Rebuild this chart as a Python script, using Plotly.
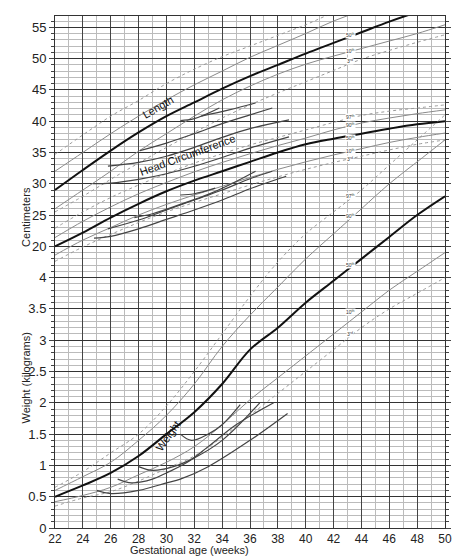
import plotly.graph_objects as go

# one shared vertical scale: kg * 10 below, cm + 25 above
def kg(vals):
    return [v * 10 for v in vals]

def cm(vals):
    return [v + 25 for v in vals]

weeks = [22, 24, 26, 28, 30, 32, 34, 36, 38, 40, 42, 44, 46, 48, 50]

# Length percentiles (cm)
len_p97 = [34.7, 37.8, 40.8, 43.3, 46.0, 48.3, 50.3, 52.0, 53.7, 55.4, 57.3, 58.5, 59.5, 60.5, 61.5]
len_p90 = [32.0, 35.0, 38.0, 40.8, 43.4, 45.8, 48.0, 50.2, 52.1, 54.0, 56.0, 57.6, 58.8, 59.8, 60.8]
len_p50 = [29.0, 32.2, 35.3, 38.2, 40.8, 43.0, 45.2, 47.2, 49.0, 50.8, 52.5, 54.2, 55.9, 57.4, 58.6]
len_p10 = [26.0, 29.0, 32.0, 35.2, 38.0, 40.8, 43.4, 45.6, 47.5, 49.1, 50.4, 51.6, 52.8, 54.0, 55.4]
len_p3 = [25.5, 28.0, 30.7, 33.3, 35.8, 38.2, 40.5, 42.6, 44.5, 46.3, 48.1, 49.9, 51.3, 52.6, 53.8]

# Head circumference percentiles (cm)
hc_p97 = [22.9, 25.5, 27.8, 29.8, 31.6, 33.3, 34.8, 36.2, 37.4, 38.6, 39.8, 40.9, 41.6, 42.1, 42.6]
hc_p90 = [21.4, 24.0, 26.3, 28.4, 30.2, 31.9, 33.4, 34.8, 36.1, 37.3, 38.6, 39.7, 40.5, 41.2, 41.8]
hc_p50 = [20.0, 22.2, 24.6, 26.8, 28.8, 30.5, 32.0, 33.5, 35.0, 36.3, 37.2, 38.0, 38.8, 39.5, 40.0]
hc_p10 = [18.6, 21.0, 23.0, 25.0, 26.7, 28.2, 29.6, 31.0, 32.3, 33.5, 34.6, 35.6, 36.6, 37.4, 38.1]
hc_p3 = [17.6, 19.9, 21.9, 23.8, 25.5, 27.0, 28.4, 29.8, 31.1, 32.3, 33.4, 34.4, 35.4, 36.3, 37.0]

# Weight percentiles (kg)
wt_p97 = [0.65, 0.90, 1.20, 1.50, 1.95, 2.50, 3.10, 3.70, 4.25, 4.70, 5.05, 5.40, 5.80, 6.20, 6.60]
wt_p90 = [0.60, 0.82, 1.05, 1.40, 1.80, 2.30, 2.90, 3.40, 3.85, 4.30, 4.70, 5.10, 5.50, 5.85, 6.20]
wt_p50 = [0.50, 0.68, 0.88, 1.15, 1.50, 1.85, 2.30, 2.85, 3.20, 3.60, 3.95, 4.30, 4.65, 5.00, 5.30]
wt_p10 = [0.42, 0.52, 0.65, 0.85, 1.05, 1.30, 1.65, 2.05, 2.40, 2.75, 3.10, 3.45, 3.80, 4.10, 4.40]
wt_p3 = [0.35, 0.48, 0.58, 0.75, 0.95, 1.15, 1.45, 1.80, 2.15, 2.50, 2.85, 3.20, 3.50, 3.75, 4.00]

# individual infants
len_a_wk = [31, 32, 33.8]
len_a = [40.1, 40.4, 42.1]
len_b_wk = [32.5, 34.5, 36.4]
len_b = [40.8, 41.8, 42.9]
len_c_wk = [25.8, 28, 30, 32, 34, 36, 38.8]
len_c = [32.8, 33.4, 34.4, 35.8, 37.4, 38.8, 40.2]
len_d_wk = [28.1, 30, 32, 34, 36, 37.6]
len_d = [35.3, 36.5, 38.0, 39.6, 41.0, 42.1]
len_e_wk = [24.7, 26, 28, 30, 32, 34, 36, 38.8]
len_e = [30.0, 30.1, 30.7, 31.6, 32.8, 34.2, 35.7, 37.5]

hc_a_wk = [24.8, 26, 28, 30, 32, 34, 36, 38.6]
hc_a = [21.3, 21.6, 22.8, 24.3, 25.8, 27.4, 29.2, 31.2]
hc_b_wk = [25.8, 28, 30, 32, 34, 36, 37.6]
hc_b = [22.8, 24.2, 25.8, 27.4, 29.0, 30.8, 32.0]
hc_c_wk = [27.7, 29, 31, 33, 34.5, 36.4]
hc_c = [24.6, 25.2, 26.7, 28.3, 29.8, 32.0]
hc_d_wk = [31, 32, 33.5]
hc_d = [28.2, 28.4, 29.3]

wt_a_wk = [25, 26, 28, 30, 31, 33, 36, 38.7]
wt_a = [0.60, 0.55, 0.60, 0.72, 0.78, 0.98, 1.40, 1.83]
wt_b_wk = [26.5, 27.5, 29, 30, 31.5, 33, 35, 37.7]
wt_b = [0.78, 0.72, 0.78, 0.88, 1.05, 1.30, 1.65, 2.00]
wt_c_wk = [28, 29, 30.5, 32, 34, 36.7]
wt_c = [0.98, 0.92, 0.98, 1.12, 1.40, 2.00]
wt_d_wk = [31, 31.8, 33, 34, 35.3]
wt_d = [1.50, 1.40, 1.50, 1.65, 1.97]

y_ticks = [0, 5, 10, 15, 20, 25, 30, 35, 40, 45, 50, 55, 60, 65, 70, 75, 80]
y_labels = ['0', '0.5', '1', '1.5', '2', '2.5', '3', '3.5', '4',
            '20', '25', '30', '35', '40', '45', '50', '55']

fig = go.Figure()

def add(x, y, color, width, dash='solid'):
    fig.add_trace(go.Scatter(x=x, y=y, mode='lines', hoverinfo='skip',
                             line=dict(color=color, width=width, dash=dash, shape='spline')))

for conv, group in [(cm, [len_p97, len_p90, len_p50, len_p10, len_p3]),
                    (cm, [hc_p97, hc_p90, hc_p50, hc_p10, hc_p3]),
                    (kg, [wt_p97, wt_p90, wt_p50, wt_p10, wt_p3])]:
    styles = [('#9a9a9a', 1, 'dot'), ('#8a8a8a', 1, 'solid'), ('#111', 2, 'solid'),
              ('#8a8a8a', 1, 'solid'), ('#9a9a9a', 1, 'dot')]
    for vals, (c, w, d) in zip(group, styles):
        add(weeks, conv(vals), c, w, d)

for x, y in [(len_a_wk, len_a), (len_b_wk, len_b), (len_c_wk, len_c), (len_d_wk, len_d),
             (len_e_wk, len_e), (hc_a_wk, hc_a), (hc_b_wk, hc_b), (hc_c_wk, hc_c), (hc_d_wk, hc_d)]:
    add(x, cm(y), '#444', 1.2)
for x, y in [(wt_a_wk, wt_a), (wt_b_wk, wt_b), (wt_c_wk, wt_c), (wt_d_wk, wt_d)]:
    add(x, kg(y), '#444', 1.2)

# percentile tags at 43.2 weeks
tag_font = dict(size=5, color='#333', family='Arial')
for txt, v in [('50<sup>th</sup>', cm([53.8])[0]), ('10<sup>th</sup>', cm([51.2])[0]), ('3<sup>rd</sup>', cm([49.6])[0]),
               ('97<sup>th</sup>', cm([40.6])[0]), ('90<sup>th</sup>', cm([39.4])[0]), ('50<sup>th</sup>', cm([37.3])[0]),
               ('10<sup>th</sup>', cm([35.2])[0]), ('3<sup>rd</sup>', cm([34.0])[0]),
               ('97<sup>th</sup>', kg([5.3])[0]), ('90<sup>th</sup>', kg([4.98])[0]), ('50<sup>th</sup>', kg([4.2])[0]),
               ('10<sup>th</sup>', kg([3.45])[0]), ('3<sup>rd</sup>', kg([3.1])[0])]:
    fig.add_annotation(x=43.2, y=v, text=txt, showarrow=False, font=tag_font, bgcolor='white', borderpad=0)

lbl = dict(size=11, color='#111', family='Arial')
fig.add_annotation(x=29.4, y=67.3, text='Length', textangle=-30, showarrow=False, font=lbl)
fig.add_annotation(x=31.5, y=59.6, text='Head Circumference', textangle=-20, showarrow=False, font=lbl)
fig.add_annotation(x=30.1, y=14.7, text='Weight', textangle=-55, showarrow=False, font=lbl)

axis_font = dict(size=11, color='#222', family='Arial')
fig.add_annotation(xref='paper', yref='paper', x=0.345, y=-0.028, yanchor='top', showarrow=False,
                   text='Gestational age (weeks)', font=axis_font)
fig.add_annotation(xref='paper', yref='paper', x=-0.095, y=0.67, textangle=-90, showarrow=False,
                   text='Centimeters', font=axis_font)
fig.add_annotation(xref='paper', yref='paper', x=-0.095, y=0.2, textangle=-90, showarrow=False,
                   text='Weight (kilograms)', font=axis_font)

fig.update_layout(
    width=474, height=558, showlegend=False,
    margin=dict(l=47, r=37, t=8, b=38),
    plot_bgcolor='white', paper_bgcolor='white',
    font=dict(family='Arial', size=12, color='#222'),
    xaxis=dict(range=[22, 50], dtick=2, tick0=22, showgrid=True, gridcolor='#444', gridwidth=1,
               minor=dict(dtick=1, showgrid=True, gridcolor='#bbb'),
               ticks='inside', ticklen=4, linecolor='#333', mirror=True, zeroline=False,
               tickfont=dict(size=12)),
    yaxis=dict(range=[0, 81.8], tickvals=y_ticks, ticktext=y_labels, showgrid=True,
               gridcolor='#333', gridwidth=1.3,
               minor=dict(dtick=1, showgrid=True, gridcolor='#bbb', ticks='outside', ticklen=3),
               ticks='outside', ticklen=5, linecolor='#333', mirror='ticks', zeroline=False,
               tickfont=dict(size=13)),
)

fig.write_html("out.html")
